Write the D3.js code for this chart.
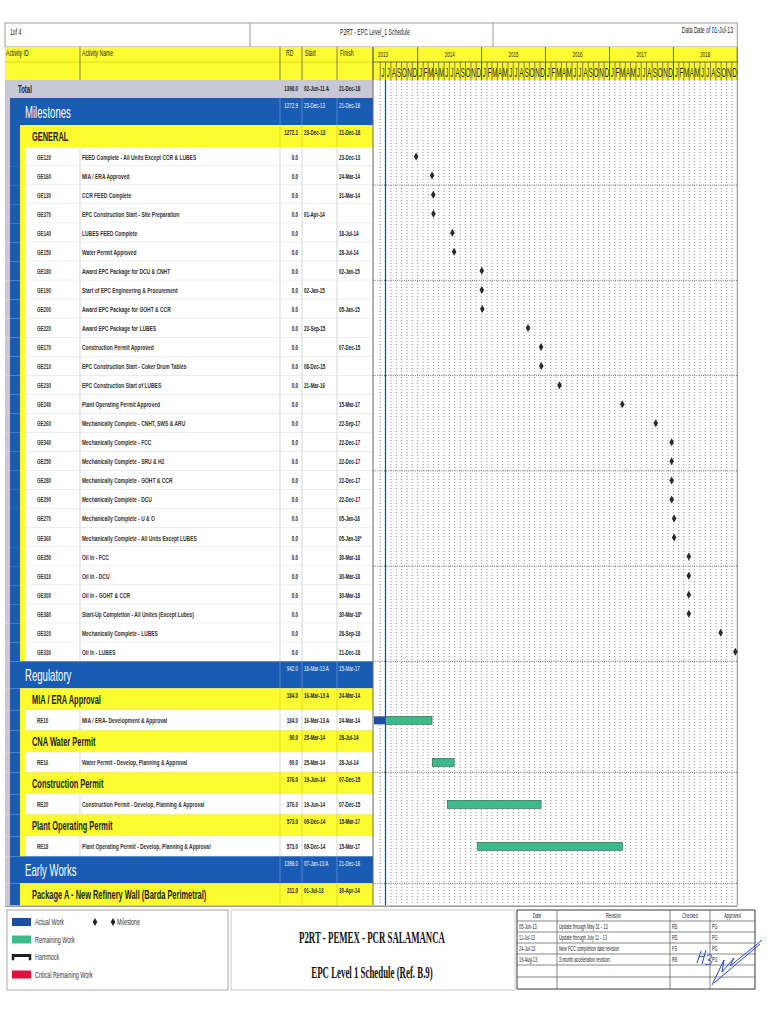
<!DOCTYPE html>
<html>
<head>
<meta charset="utf-8">
<script src="https://d3js.org/d3.v7.min.js"></script>
<style>
body {margin:0; background:#fff;}
</style>
</head>
<body>
<svg width="768" height="1024"></svg>
<script>
// schedule rows
var rowType = ["total","band","group",
  "ms","ms","ms","ms","ms","ms","ms","ms","ms","ms","ms","ms","ms","ms","ms","ms","ms","ms","ms","ms","ms","ms","ms","ms","ms","ms","ms",
  "band","group","act","group","act","group","act","group","act","band","group"];
var rowId = ["","","",
  "GE120","GE160","GE130","GE370","GE140","GE150","GE180","GE190","GE200","GE220","GE170","GE210","GE230","GE240",
  "GE260","GE340","GE250","GE280","GE290","GE270","GE360","GE350","GE310","GE300","GE380","GE320","GE330",
  "","","RE10","","RE16","","RE20","","RE18","",""];
var rowName = ["Total","Milestones","GENERAL",
  "FEED Complete - All Units Except CCR & LUBES","MIA / ERA Approved","CCR FEED Complete",
  "EPC Construction Start - Site Preparation","LUBES FEED Complete","Water Permit Approved",
  "Award EPC Package for DCU & CNHT","Start of EPC Engineering & Procurement","Award EPC Package for GOHT & CCR",
  "Award EPC Package for LUBES","Construction Permit Approved","EPC Construction Start - Coker Drum Tables",
  "EPC Construction Start of LUBES","Plant Operating Permit Approved","Mechanically Complete - CNHT, SWS & ARU",
  "Mechanically Complete - FCC","Mechanically Complete - SRU & H2","Mechanically Complete - GOHT & CCR",
  "Mechanically Complete - DCU","Mechanically Complete - U & O","Mechanically Complete - All Units Except LUBES",
  "Oil In - FCC","Oil In - DCU","Oil In - GOHT & CCR","Start-Up Completion - All Unites (Except Lubes)",
  "Mechanically Complete - LUBES","Oil In - LUBES",
  "Regulatory","MIA / ERA Approval","MIA / ERA- Development & Approval",
  "CNA Water Permit","Water Permit - Develop, Planning & Approval",
  "Construction Permit","Construction Permit - Develop, Planning & Approval",
  "Plant Operating Permit","Plant Operating Permit -  Develop, Planning & Approval",
  "Early Works","Package A - New Refinery Wall (Barda Perimetral)"];
var rowRD = ["1398.0","1272.9","1272.1",
  "0.0","0.0","0.0","0.0","0.0","0.0","0.0","0.0","0.0","0.0","0.0","0.0","0.0","0.0",
  "0.0","0.0","0.0","0.0","0.0","0.0","0.0","0.0","0.0","0.0","0.0","0.0","0.0",
  "942.0","184.0","184.0","90.0","90.0","376.0","376.0","573.0","573.0","1398.0","211.0"];
var rowStart = ["02-Jun-11 A","23-Dec-13","23-Dec-13",
  "","","","01-Apr-14","","","","02-Jan-15","","23-Sep-15","","08-Dec-15","21-Mar-16","",
  "","","","","","","","","","","","","",
  "16-Mar-13 A","16-Mar-13 A","16-Mar-13 A","25-Mar-14","25-Mar-14","19-Jun-14","19-Jun-14",
  "09-Dec-14","09-Dec-14","07-Jan-13 A","01-Jul-13"];
var rowFinish = ["21-Dec-18","21-Dec-18","21-Dec-18",
  "23-Dec-13","24-Mar-14","31-Mar-14","","18-Jul-14","28-Jul-14","02-Jan-15","","05-Jan-15","","07-Dec-15","","","15-Mar-17",
  "22-Sep-17","22-Dec-17","22-Dec-17","22-Dec-17","22-Dec-17","05-Jan-18","05-Jan-18*","30-Mar-18","30-Mar-18",
  "30-Mar-18","30-Mar-18*","28-Sep-18","21-Dec-18",
  "15-Mar-17","24-Mar-14","24-Mar-14","28-Jul-14","28-Jul-14","07-Dec-15","07-Dec-15",
  "15-Mar-17","15-Mar-17","21-Dec-18","30-Apr-14"];

var yearLabels = ["2013","2014","2015","2016","2017","2018"];
var monthLetters = ["J","F","M","A","M","J","J","A","S","O","N","D"];
var dataDate = "01-Jul-13";

var legendLabels = ["Actual Work","Remaining Work","Hammock","Critical Remaining Work"];
var legendColors = ["#1b4fa6","#3dba8c","#222","#e2103e"];

var revHead = ["Date","Revision","Checked","Approved"];
var revDate = ["05-Jun-13","11-Jul-13","24-Jul-13","19-Aug-13","",""];
var revText = ["Update through May 31 - 13","Update through July 11 - 13","New FCC completion date revision","3 month acceleration revision.","",""];
var revChecked = ["RS","RS","FS","RS","",""];
var revApproved = ["PG","PG","PG","PG","",""];

var svg = d3.select("svg");
var blue = "#1a5cb5", yellow = "#fcfb2f", grey = "#c7c7d5", green = "#3dba8c";
var parse = d3.timeParse("%d-%b-%y");
function toDate(s) { return s ? parse(s.replace(" A","").replace("*","")) : null; }

// text helper, squashed horizontally like the scanned sheet
function label(g, x, y, s, o) {
  o = o || {};
  return g.append("text")
    .attr("transform", "translate(" + x + "," + y + ") scale(" + (o.sx || 0.6) + ",1)")
    .style("font-family", o.family || "'Liberation Sans', Arial, sans-serif")
    .attr("font-size", o.size || 7.5)
    .attr("font-weight", o.bold ? "bold" : "normal")
    .attr("fill", o.fill || "#222")
    .attr("text-anchor", o.anchor || "start")
    .text(s);
}

var gx0 = 374, gx1 = 737.3;
var x = d3.scaleTime().domain([new Date(2014,0,1), new Date(2019,0,1)]).range([417.7, gx1]);
var colX = {id: 80, rd: 280, start: 302, finish: 337, end: 373};

// row layout
var heightOf = {total: 18, band: 27, group: 22, ms: 19.05, act: 20};
var levelOf = {total: 0, band: 1, group: 2, ms: 3, act: 3};
var indent = [5, 10, 20, 25];
var ys = [], yy = 80;
rowType.forEach(function(t) { ys.push(yy); yy += heightOf[t]; });
var tableBottom = yy;

// ---------- top box ----------
var topBox = svg.append("g");
topBox.append("rect").attr("x",5).attr("y",23).attr("width",gx1-5).attr("height",24)
  .attr("fill","#fff").attr("stroke","#999");
topBox.append("line").attr("x1",250).attr("x2",250).attr("y1",23).attr("y2",47).attr("stroke","#999");
topBox.append("line").attr("x1",493).attr("x2",493).attr("y1",23).attr("y2",47).attr("stroke","#999");
label(topBox, 10, 35, "1of 4", {size: 8.5});
label(topBox, 340, 35, "P2RT - EPC Level_1 Schedule", {size: 8.5});
label(topBox, 733, 33, "Data Date of 01-Jul-13", {size: 8.5, anchor: "end"});

// ---------- column header ----------
var hd = svg.append("g");
hd.append("rect").attr("x",5).attr("y",47).attr("width",gx1-5).attr("height",33).attr("fill",yellow);
hd.append("line").attr("x1",5).attr("x2",colX.end).attr("y1",62).attr("y2",62).attr("stroke","#e0dc20");
[colX.id, colX.rd, colX.start, colX.finish, colX.end].forEach(function(cx) {
  hd.append("line").attr("x1",cx).attr("x2",cx).attr("y1",47).attr("y2",80).attr("stroke","#555").attr("stroke-width",0.7);
});
label(hd, 6, 56, "Activity ID", {size: 8.5});
label(hd, 82, 56, "Activity Name", {size: 8.5});
label(hd, 286, 56, "RD", {size: 8.5});
label(hd, 305, 56, "Start", {size: 8.5});
label(hd, 340, 56, "Finish", {size: 8.5});

// timeline header
hd.append("line").attr("x1",colX.end).attr("x2",gx1).attr("y1",62).attr("y2",62).attr("stroke","#333").attr("stroke-width",0.7);
var years = d3.timeYears(new Date(2014,0,1), new Date(2019,0,2));
years.forEach(function(d) {
  hd.append("line").attr("x1",x(d)).attr("x2",x(d)).attr("y1",47).attr("y2",80).attr("stroke","#333").attr("stroke-width",0.7);
});
yearLabels.forEach(function(s, i) {
  if (i === 0) label(hd, gx0 + 4, 57, s, {size: 7.5});
  else label(hd, (x(new Date(+s,0,1)) + x(new Date(+s+1,0,1))) / 2, 57, s, {size: 7.5, anchor: "middle"});
});
var months = d3.timeMonths(new Date(2013,5,1), new Date(2019,0,1));
months.forEach(function(d) {
  var a = x(d), b = x(d3.timeMonth.offset(d,1));
  hd.append("line").attr("x1",a).attr("x2",a).attr("y1",62).attr("y2",80).attr("stroke","#333").attr("stroke-width",0.6);
  label(hd, (a+b)/2, 77, monthLetters[d.getMonth()], {size: 12, anchor: "middle", sx: 0.5});
});

// ---------- table rows ----------
var tb = svg.append("g");
rowType.forEach(function(t, i) {
  var y0 = ys[i], h = heightOf[t], lev = levelOf[t];
  if (lev >= 1) tb.append("rect").attr("x",5).attr("y",y0).attr("width",5).attr("height",h).attr("fill",grey);
  if (lev >= 2) tb.append("rect").attr("x",10).attr("y",y0).attr("width",10).attr("height",h).attr("fill",blue);
  if (lev >= 3) tb.append("rect").attr("x",20).attr("y",y0).attr("width",5).attr("height",h).attr("fill",yellow);
  var fill = t === "total" ? grey : t === "band" ? blue : t === "group" ? yellow : "#fff";
  tb.append("rect").attr("x",indent[lev]).attr("y",y0).attr("width",colX.end - indent[lev]).attr("height",h).attr("fill",fill);

  var sep = t === "band" ? "#6f95d4" : t === "group" ? "#d6d21e" : t === "total" ? null : "#c4c4c4";
  if (sep) {
    var cols = lev === 3 ? [colX.id, colX.rd, colX.start, colX.finish] : [colX.rd, colX.start, colX.finish];
    cols.forEach(function(cx) {
      tb.append("line").attr("x1",cx).attr("x2",cx).attr("y1",y0).attr("y2",y0+h).attr("stroke",sep).attr("stroke-width",0.7);
    });
  }
  if (lev === 3) tb.append("line").attr("x1",25).attr("x2",colX.end).attr("y1",y0+h).attr("y2",y0+h).attr("stroke","#cfcfcf").attr("stroke-width",0.7);

  var vc = t === "band" ? "#fff" : "#222";
  var vy = lev === 3 ? y0 + h/2 + 3 : (t === "total" ? y0 + 11 : y0 + 10);
  label(tb, 298, vy, rowRD[i], {anchor: "end", fill: vc, bold: t !== "band", size: 7.5});
  label(tb, 304, vy, rowStart[i], {fill: vc, bold: t !== "band", size: 7.5});
  label(tb, 339, vy, rowFinish[i], {fill: vc, bold: t !== "band", size: 7.5});

  if (t === "total") label(tb, 18, y0 + 13, rowName[i], {size: 10, bold: true});
  else if (t === "band") label(tb, 25, y0 + 20, rowName[i], {size: 16, fill: "#fff"});
  else if (t === "group") label(tb, 32, y0 + 16, rowName[i], {size: 12, bold: true, sx: 0.62});
  else {
    label(tb, 37, vy, rowId[i], {size: 7.5, bold: true, fill: "#333"});
    label(tb, 82, vy, rowName[i], {size: 8, bold: true, fill: "#333", sx: 0.62});
  }
});

// ---------- gantt area ----------
var gg = svg.append("g");
gg.append("rect").attr("x",colX.end).attr("y",80).attr("width",gx1-colX.end).attr("height",tableBottom-80).attr("fill","#fff");
d3.timeMonths(new Date(2013,5,1), new Date(2019,0,1)).forEach(function(d) {
  gg.append("line").attr("x1",x(d)).attr("x2",x(d)).attr("y1",80).attr("y2",tableBottom)
    .attr("stroke","#666").attr("stroke-width",0.7).attr("stroke-dasharray","1 2");
});
rowType.forEach(function(t, i) {
  if ((i + 1) % 5 === 0) {
    var yb = ys[i] + heightOf[t];
    gg.append("line").attr("x1",colX.end).attr("x2",gx1).attr("y1",yb).attr("y2",yb)
      .attr("stroke","#444").attr("stroke-width",0.8).attr("stroke-dasharray","1 1.2");
  }
});
gg.append("line").attr("x1",colX.end).attr("x2",colX.end).attr("y1",47).attr("y2",tableBottom).attr("stroke","#666");
gg.append("line").attr("x1",gx1).attr("x2",gx1).attr("y1",47).attr("y2",tableBottom).attr("stroke","#888");
var dd = x(toDate(dataDate));
gg.append("line").attr("x1",dd).attr("x2",dd).attr("y1",80).attr("y2",tableBottom).attr("stroke","#1d3f9c").attr("stroke-width",1.2);

var diamond = "M0,-4L2.3,0L0,4L-2.3,0Z";
rowType.forEach(function(t, i) {
  var cy = ys[i] + heightOf[t] / 2;
  var s = toDate(rowStart[i]), f = toDate(rowFinish[i]);
  if (t === "ms") {
    gg.append("path").attr("d", diamond).attr("transform","translate(" + x(f || s) + "," + cy + ")").attr("fill","#2a2a2a");
  } else if (t === "act") {
    var xs = Math.max(gx0, x(s)), xf = x(f);
    if (xs < dd) gg.append("rect").attr("x",xs).attr("y",cy-4).attr("width",dd-xs).attr("height",8).attr("fill","#1b4fa6");
    var xr = Math.max(xs, dd);
    gg.append("rect").attr("x",xr).attr("y",cy-4).attr("width",xf-xr).attr("height",8)
      .attr("fill",green).attr("stroke","#2a5c48").attr("stroke-width",0.6);
  }
});
svg.append("line").attr("x1",5).attr("x2",gx1).attr("y1",tableBottom+1).attr("y2",tableBottom+1).attr("stroke","#999").attr("stroke-width",1.5);

// ---------- legend ----------
var lg = svg.append("g");
lg.append("rect").attr("x",7).attr("y",910).attr("width",221).attr("height",80).attr("fill","#fff").attr("stroke","#aaa");
legendLabels.forEach(function(s, i) {
  var ly = 918 + i * 17.5;
  if (s === "Hammock") {
    lg.append("rect").attr("x",12).attr("y",ly+1).attr("width",19).attr("height",3).attr("fill",legendColors[i]);
    lg.append("path").attr("d","M12," + (ly+1) + "v6h2v-6M29," + (ly+1) + "v6h2v-6").attr("fill",legendColors[i]).attr("stroke",legendColors[i]).attr("stroke-width",0.5);
  } else {
    lg.append("rect").attr("x",12).attr("y",ly).attr("width",19).attr("height",8).attr("fill",legendColors[i]);
  }
  label(lg, 35, ly + 7, s, {size: 9, fill: "#333"});
});
lg.append("path").attr("d",diamond).attr("transform","translate(95,922)").attr("fill","#222");
lg.append("path").attr("d",diamond).attr("transform","translate(113,922)").attr("fill","#222");
label(lg, 117, 925, "Milestone", {size: 9, fill: "#333"});

// title box
lg.append("rect").attr("x",231).attr("y",910).attr("width",284).attr("height",80).attr("fill","#fff").attr("stroke","#ccc");
var serif = "'Liberation Serif', 'DejaVu Serif', serif";
label(lg, 372, 943, "P2RT - PEMEX - PCR SALAMANCA", {size: 17, family: serif, anchor: "middle", fill: "#111", sx: 0.52, bold: true});
label(lg, 372, 978, "EPC Level 1 Schedule (Ref. B.9)", {size: 17, family: serif, anchor: "middle", fill: "#111", sx: 0.52, bold: true});

// revision table
var rx = [517, 557, 670, 710, 755];
var rt = svg.append("g");
var rowsY = [910, 921, 932, 943, 954, 965, 977, 989];
rt.append("rect").attr("x",rx[0]).attr("y",910).attr("width",rx[4]-rx[0]).attr("height",79).attr("fill","#fff").attr("stroke","#555").attr("stroke-width",0.7);
rx.forEach(function(cx) {
  rt.append("line").attr("x1",cx).attr("x2",cx).attr("y1",910).attr("y2",989).attr("stroke","#555").attr("stroke-width",0.7);
});
rowsY.forEach(function(ry) {
  rt.append("line").attr("x1",rx[0]).attr("x2",rx[4]).attr("y1",ry).attr("y2",ry).attr("stroke","#555").attr("stroke-width",0.7);
});
revHead.forEach(function(s, j) {
  label(rt, (rx[j] + rx[j+1]) / 2, 918, s, {size: 6.5, anchor: "middle"});
});
revDate.forEach(function(s, i) {
  var ry = rowsY[i+1] + 8;
  label(rt, rx[0] + 2, ry, s, {size: 6.5});
  label(rt, rx[1] + 2, ry, revText[i], {size: 6.5});
  label(rt, rx[2] + 2, ry, revChecked[i], {size: 6.5});
  label(rt, rx[3] + 2, ry, revApproved[i], {size: 6.5});
});
// signatures
rt.append("path").attr("d","M697,963 L701,951 M699,957 L705,956 M706,950 L702,964 M707,956 C712,952 714,958 708,960 C714,961 712,966 705,964")
  .attr("fill","none").attr("stroke","#2446c8").attr("stroke-width",1);
rt.append("path").attr("d","M712,985 L724,960 L722,972 L734,958 L730,966 C740,958 750,950 762,940 M714,983 L760,944")
  .attr("fill","none").attr("stroke","#2446c8").attr("stroke-width",1);
</script>
</body>
</html>
